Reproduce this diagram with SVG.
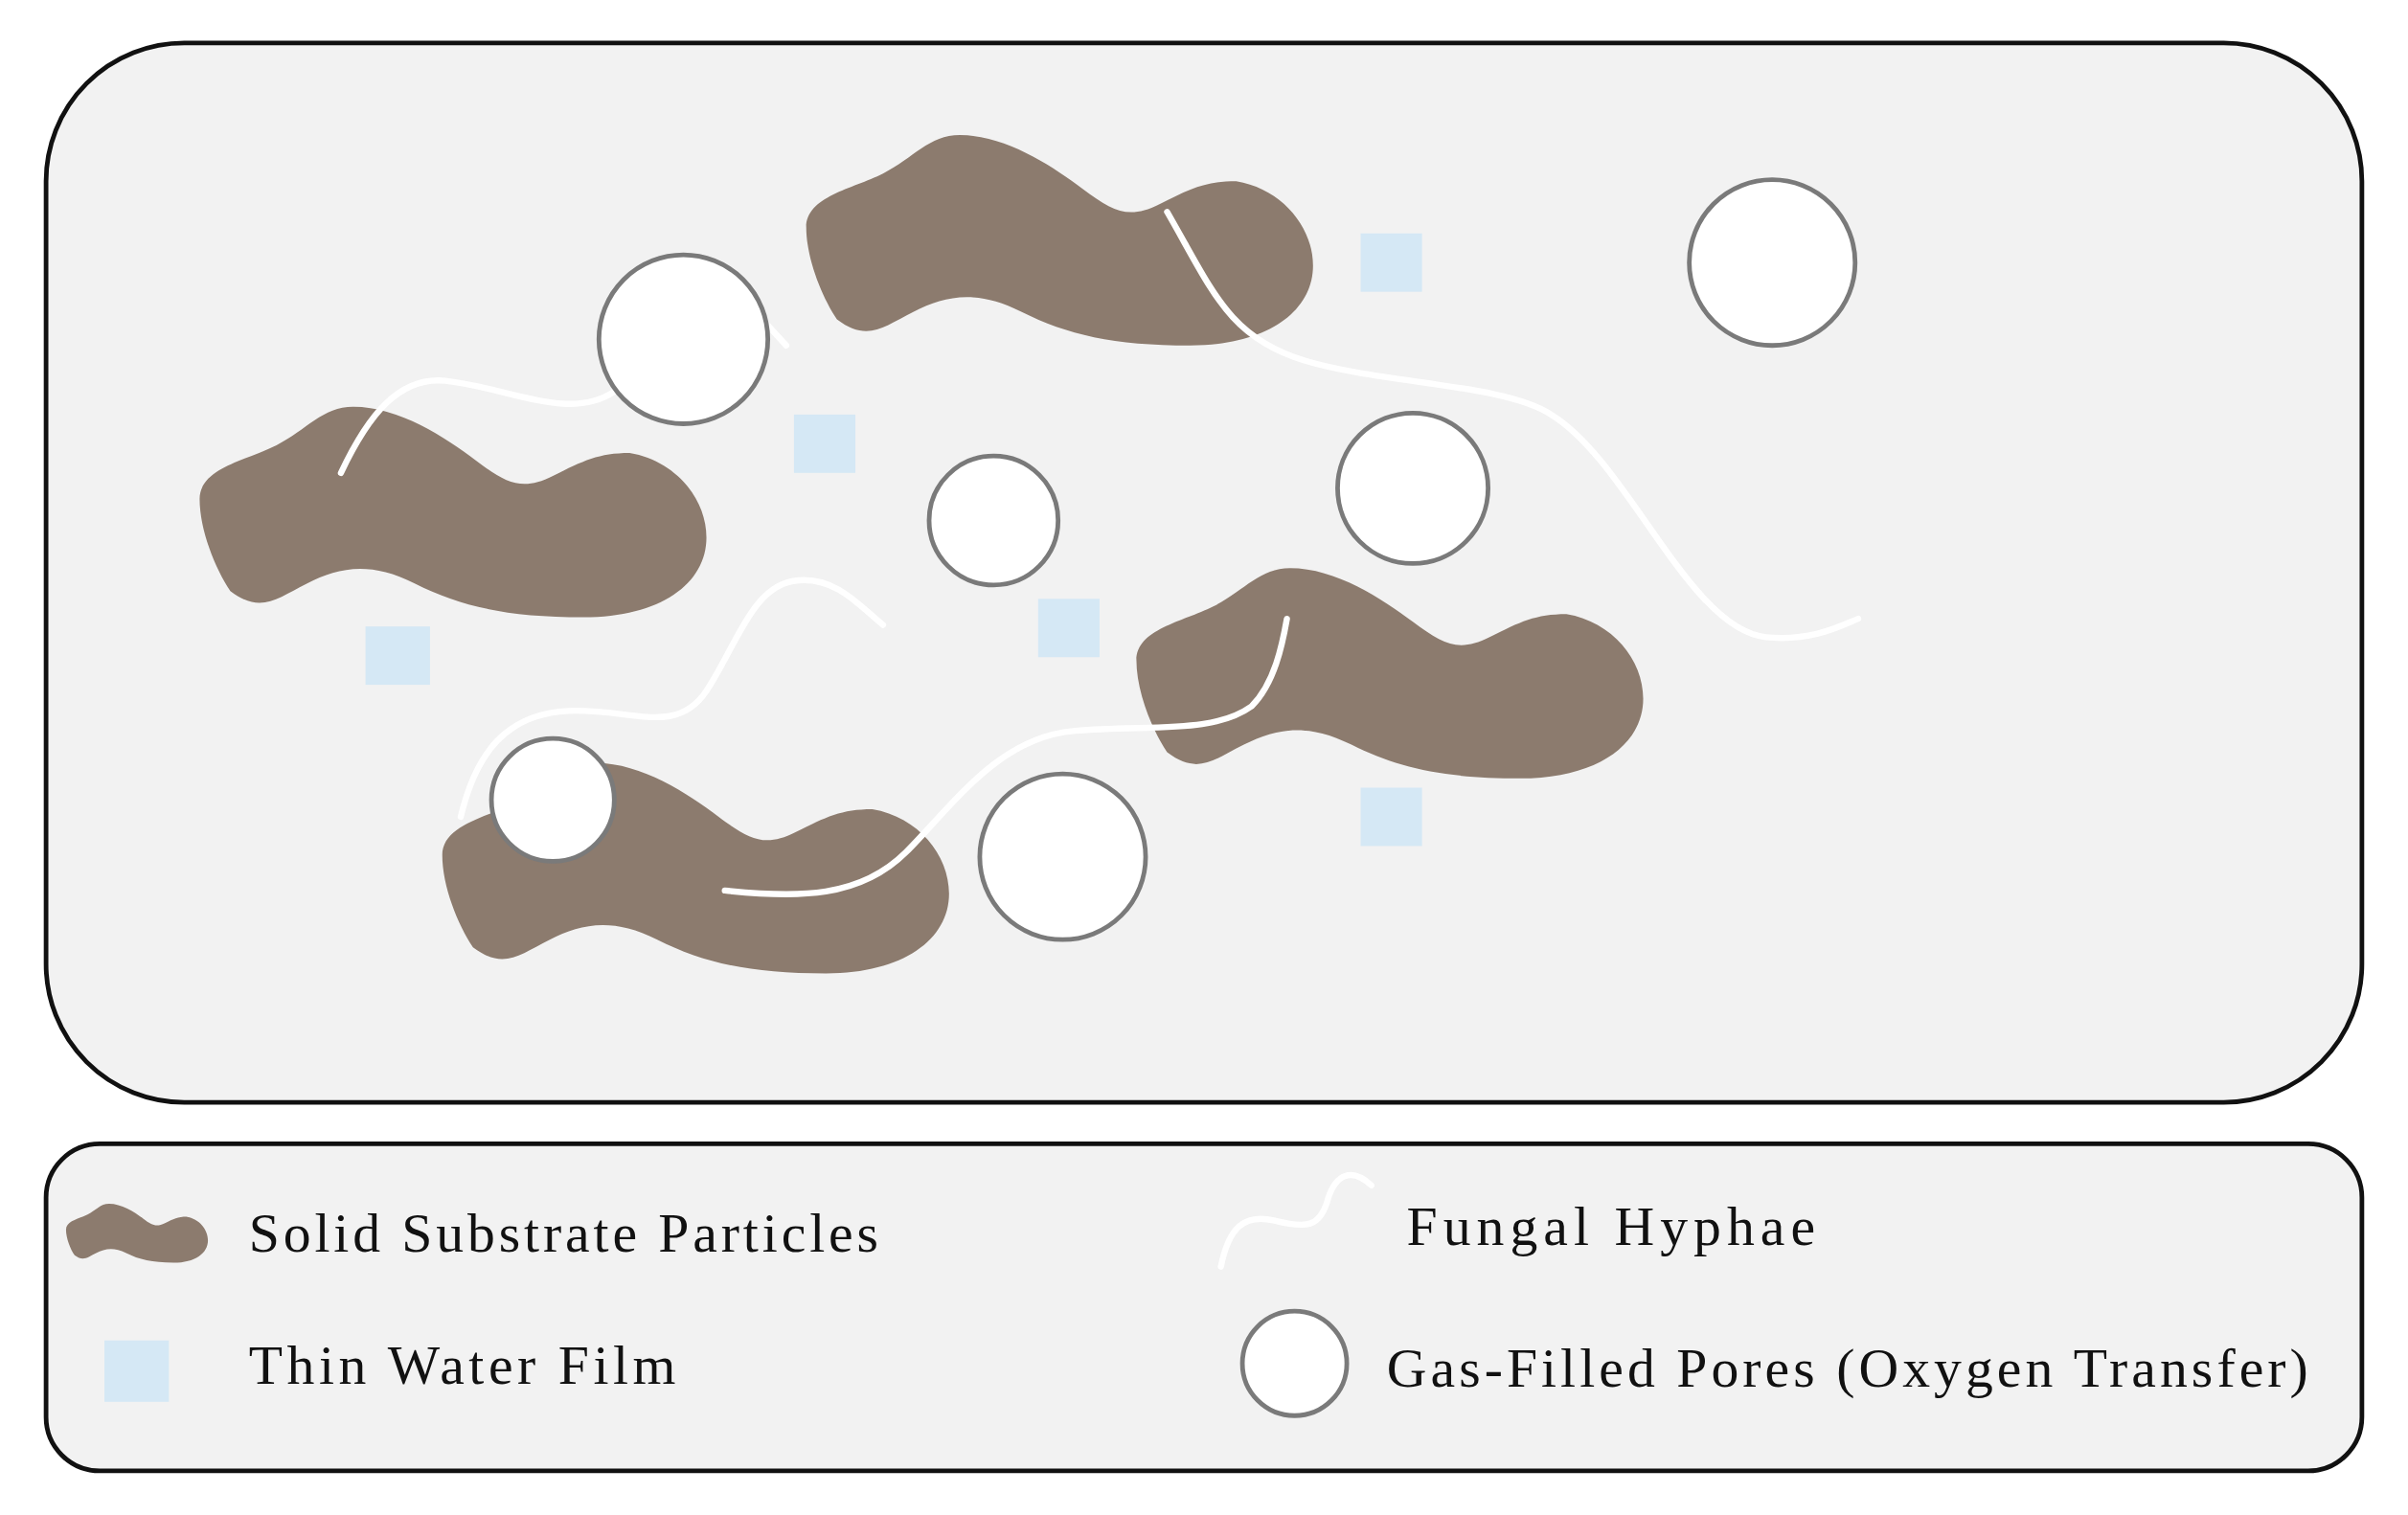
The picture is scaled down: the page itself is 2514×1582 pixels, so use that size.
<svg xmlns="http://www.w3.org/2000/svg" width="2514" height="1582" viewBox="0 0 2514 1582">
<defs>
<style>
.panel{fill:#f2f2f2;stroke:#111;stroke-width:3}
.blob{fill:#8c7b6e}
.sq{fill:#d5e8f5}
.hy{fill:none;stroke:#fff;stroke-width:4;stroke-linecap:round}
.pore{fill:#fff;stroke:#7a7a7a;stroke-width:3}
.lbl{font-family:"Liberation Serif",serif;font-size:36px;fill:#111}
</style>
<path id="bs" d="M0,60 C0,40 30,35 50,25 C70,15 80,0 100,0 C130,0 160,20 180,35 C200,50 210,55 230,45 C250,35 260,30 280,30 C310,35 330,60 330,85 C330,115 300,137 250,137 C200,137 170,130 140,115 C110,100 90,105 70,115 C50,125 40,135 20,120 C10,105 0,80 0,60 Z"/>
</defs>
<rect width="2514" height="1582" fill="#fff"/>
<g transform="scale(1.6033)">
<g id="main-panel"><rect class="panel" x="30" y="28" width="1508" height="690" rx="90"/></g>
<g id="particles">
<use href="#bs" class="blob" x="525" y="88"/>
<use href="#bs" class="blob" x="130" y="265"/>
<use href="#bs" class="blob" x="288" y="497"/>
<use href="#bs" class="blob" x="740" y="370"/>
</g>
<g id="water">
<rect class="sq" x="886" y="152" width="40" height="38"/>
<rect class="sq" x="517" y="270" width="40" height="38"/>
<rect class="sq" x="676" y="390" width="40" height="38"/>
<rect class="sq" x="238" y="408" width="42" height="38"/>
<rect class="sq" x="886" y="513" width="40" height="38"/>
</g>
<g id="hyphae">
<path class="hy" d="M222,308 C240,270 260,245 290,248 C330,252 370,275 400,255 L500,212 L512,225"/>
<path class="hy" d="M760,138 C790,190 800,220 850,235 C900,250 980,250 1010,270 C1060,300 1100,410 1150,415 C1180,418 1200,407 1210,403"/>
<path class="hy" d="M300,532 C310,490 330,465 370,463 C410,461 440,480 460,450 C480,420 490,380 520,378 C545,376 560,395 575,407"/>
<path class="hy" d="M472,580 C520,585 560,585 590,555 C620,525 650,480 700,476 C750,472 790,478 815,460 C830,445 835,420 838,403"/>
</g>
<g id="pores">
<circle class="pore" cx="445" cy="221" r="55"/>
<circle class="pore" cx="1154" cy="171" r="54"/>
<circle class="pore" cx="647" cy="339" r="42"/>
<circle class="pore" cx="920" cy="318" r="49"/>
<circle class="pore" cx="360" cy="521" r="40"/>
<circle class="pore" cx="692" cy="558" r="54"/>
</g>
<g id="legend">
<rect class="panel" x="30" y="745" width="1508" height="213" rx="35"/>
<use href="#bs" class="blob" transform="translate(43,784) scale(0.28)"/>
<text class="lbl" x="162" y="815" textLength="410">Solid Substrate Particles</text>
<rect class="sq" x="68" y="873" width="42" height="40"/>
<text class="lbl" x="162" y="901" textLength="278">Thin Water Film</text>
<path class="hy" d="M795,825 C800,800 810,790 830,795 C850,800 860,800 865,780 C870,765 880,760 893,772"/>
<text class="lbl" x="916" y="811" textLength="266">Fungal Hyphae</text>
<circle class="pore" cx="843" cy="888" r="34"/>
<text class="lbl" x="903" y="903" textLength="600">Gas-Filled Pores (Oxygen Transfer)</text>
</g>
</g>
</svg>
